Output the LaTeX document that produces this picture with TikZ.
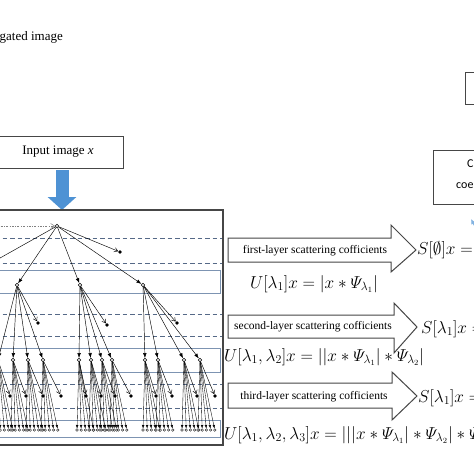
\documentclass[tikz,border=0pt]{standalone}
\usepackage{amsmath}
\usepackage{fontspec}
\setmainfont{Liberation Serif}
\newfontfamily\cfont{Carlito}
\usetikzlibrary{arrows.meta}
\definecolor{dashc}{RGB}{85,105,135}
\definecolor{bandc}{RGB}{125,148,178}
\definecolor{framec}{RGB}{70,70,70}
\definecolor{arrowblue}{RGB}{78,146,212}
\begin{document}
\begin{tikzpicture}[x=1pt,y=-1pt,
  unode/.style={circle,draw,fill=white,inner sep=0pt,minimum size=3.4pt,line width=0.45pt},
  lnode/.style={circle,draw,fill=white,inner sep=0pt,minimum size=2.6pt,line width=0.35pt},
  sdot/.style={circle,fill=black,inner sep=0pt,minimum size=3.6pt},
  edge/.style={line width=0.45pt,-{Latex[length=5pt,width=3.6pt]}},
  edgethree/.style={line width=0.35pt,-{Latex[length=3.5pt,width=2.6pt]}},
  sedge/.style={line width=0.45pt,-{Straight Barb[length=3.5pt,width=4.5pt]}},
  dashln/.style={draw=dashc,dash pattern=on 4.5pt off 3pt,line width=0.9pt},
  band/.style={draw=bandc,line width=0.9pt},
  barrow/.style={draw=framec,line width=1pt},
  lbl/.style={font=\fontsize{11.5}{12}\selectfont,inner sep=0pt},
  fml/.style={font=\fontsize{17}{18}\selectfont,inner sep=0pt},
  boxc/.style={draw=framec,line width=1pt}
]
\useasboundingbox (0,0) rectangle (474,474);
\clip (0,0) rectangle (474,474);
\fill[white] (0,0) rectangle (474,474);

% top-left text
\node[anchor=west,inner sep=0pt,font=\fontsize{13}{14}\selectfont] (gt) at (-0.5,37) {gated image};

% input box
\node[boxc,minimum width=130pt,minimum height=32pt,font=\fontsize{13}{14}\selectfont] (inbox) at (58,152) {Input image \textit{x}};
\coordinate (atop) at (62,170);
\coordinate (abot) at (62,210);
\draw[arrowblue,line width=13pt,-{Triangle[length=13pt,width=28pt]}] (atop) -- (abot);

% big frame
\draw[draw=framec,line width=1.2pt] (-5,210) rectangle (223,445);

% dashed lines and bands
\foreach \yy in {238,263,314,336,384,408} {\draw[dashln] (-5,\yy) -- (222,\yy);}
\draw[band] (-5,270) rectangle (220,293);
\draw[band] (-5,348) rectangle (220,372);
\draw[band] (-5,420) rectangle (220,437);

% root
\node[unode] (root) at (57,226) {};
\coordinate (inl) at (-5,226);
\draw[gray,dash pattern=on 2pt off 1.5pt on 0.6pt off 1.5pt,line width=0.5pt,-{Straight Barb[length=4pt,width=5pt]}] (inl) -- (root);
\node[sdot] (d0) at (120,252) {};
\draw[sedge] (root) -- (d0);

% first layer
\node[unode] (z) at (-48,285) {};
\node[unode] (a) at (17,285) {};
\node[unode] (b) at (80,285) {};
\node[unode] (c) at (143,285) {};
\foreach \q in {z,a,b,c} {\draw[edge] (root) -- (\q);}
\node[sdot] (da) at (38,323) {};
\node[sdot] (db) at (107,325) {};
\node[sdot] (dc) at (177,323) {};
\draw[sedge] (a) -- (da);
\draw[sedge] (b) -- (db);
\draw[sedge] (c) -- (dc);

% second and third layer
\foreach \nx/\dx/\pp [count=\i] in {-2/10/a,13/26/a,28/43/a,43/61/a,79/86/b,91/101/b,102/115/b,112/131/b,145/156/c,158/172/c,184/197/c,200/215/c} {
  \node[unode] (m\i) at (\nx,360) {};
  \node[sdot] (e\i) at (\dx,396) {};
  \draw[edge] (\pp) -- (m\i);
  \draw[sedge] (m\i) -- (e\i);
  \foreach \k in {0,...,4} {
    \node[lnode] (l\i-\k) at (\nx-2+\k*4.2,430) {};
    \draw[edgethree] (m\i) -- (l\i-\k);
  }
}

% block arrows
\draw[barrow] (228,238) -- (391,238) -- (391,225) -- (416,250) -- (391,272) -- (391,262) -- (228,262) -- cycle;
\draw[barrow] (228,315) -- (394,315) -- (394,303) -- (417,327) -- (394,353) -- (394,338) -- (228,338) -- cycle;
\draw[barrow] (228,383) -- (392,383) -- (392,372) -- (417,396) -- (392,420) -- (392,408) -- (228,408) -- cycle;

\node[lbl] (t1) at (315,251) {first-layer scattering cofficients};
\node[lbl] (t2) at (313,327) {second-layer scattering cofficients};
\node[lbl] (t3) at (314,397) {third-layer scattering cofficients};

\node[fml] (u1) at (314,284) {$U[\lambda_1]x = |x \ast \varPsi_{\lambda_1}|$};
\node[fml,anchor=west] (u2) at (224,357) {$U[\lambda_1,\lambda_2]x = ||x \ast \varPsi_{\lambda_1}| \ast \varPsi_{\lambda_2}|$};
\node[fml,anchor=west] (u3) at (224,435) {$U[\lambda_1,\lambda_2,\lambda_3]x = |||x \ast \varPsi_{\lambda_1}| \ast \varPsi_{\lambda_2}| \ast \varPsi_{\lambda_3}|$};

\node[fml,anchor=west] (s1) at (417,250) {$S[\emptyset]x =$};
\node[fml,anchor=west] (s2) at (421,329) {$S[\lambda_1]x =$};
\node[fml,anchor=west] (s3) at (418,398) {$S[\lambda_1]x =$};

% right boxes
\draw[boxc] (465,72) rectangle (490,104);
\draw[boxc] (433,150) rectangle (490,204);
\node[anchor=west,inner sep=0pt,font=\cfont\fontsize{12}{13}\selectfont] (cc) at (467,164) {C};
\node[anchor=west,inner sep=0pt,font=\cfont\fontsize{12}{13}\selectfont] (ce) at (456,186) {coe};
\coordinate (ba1) at (480,236);
\coordinate (ba2) at (471,219);
\draw[arrowblue!70,line width=1.2pt,-{Latex[length=5pt,width=5pt]}] (ba1) -- (ba2);
\end{tikzpicture}
\end{document}
